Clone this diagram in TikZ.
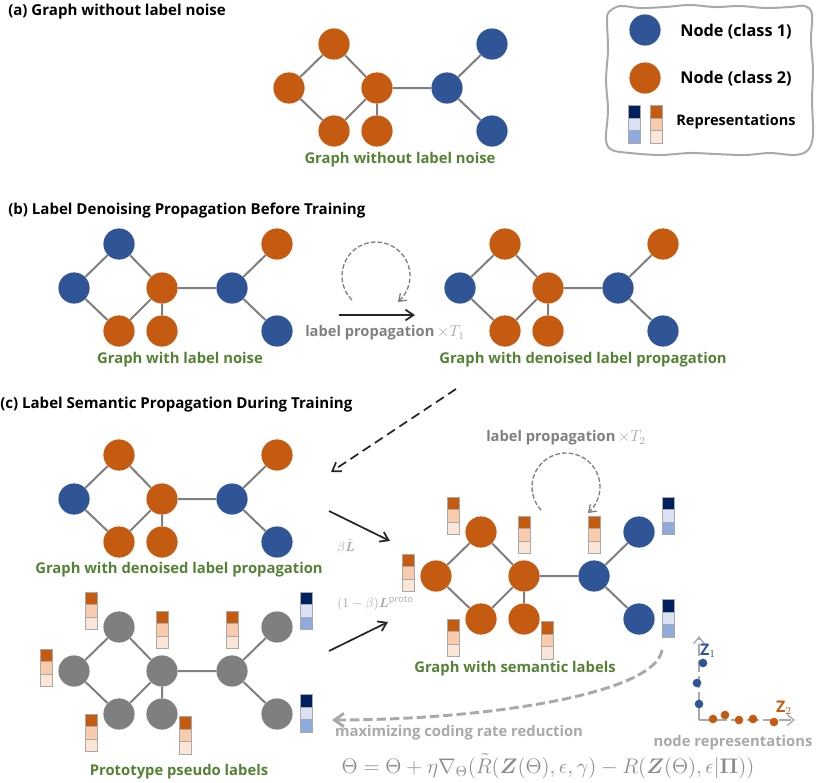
\documentclass[tikz,border=0pt]{standalone}
\usepackage{graphicx}
\usepackage{amsmath}
\usepackage{bm}
\usepackage{fontspec}
\setmainfont{Open Sans}
\usetikzlibrary{arrows.meta}
\definecolor{nb}{HTML}{2F5597}
\definecolor{no}{HTML}{C55A11}
\definecolor{ng}{HTML}{7F7F7F}
\definecolor{tg}{HTML}{548235}
\definecolor{lg}{HTML}{A9A9A9}
\definecolor{mg}{HTML}{808080}
\definecolor{fg}{HTML}{8C8C8C}
\definecolor{b1}{HTML}{002060}
\definecolor{b2}{HTML}{DAE3F3}
\definecolor{b3}{HTML}{8FAADC}
\definecolor{o1}{HTML}{C55A11}
\definecolor{o2}{HTML}{F8CBAD}
\definecolor{o3}{HTML}{FBE5D6}
\tikzset{
 gn/.style={circle,fill=#1,draw=none,minimum size=23.4pt,inner sep=0pt},
 ge/.style={draw=ng,line width=1.5pt},
 cellbox/.style={rectangle,fill=#1,draw=lg,line width=.7pt,minimum width=9.6pt,minimum height=9.4pt,inner sep=0pt},
 ttl/.style={font=\bfseries\fontsize{11.3pt}{13pt}\selectfont,text=black,inner sep=0pt},
 grn/.style={font=\bfseries\fontsize{11.1pt}{13pt}\selectfont,text=tg,inner sep=0pt},
 gry/.style={font=\bfseries\fontsize{11.1pt}{13pt}\selectfont,text=lg,inner sep=0pt},
 lbl/.style={font=\bfseries\fontsize{11pt}{13pt}\selectfont,text=mg,inner sep=0pt},
 mth/.style={text=fg,inner sep=0pt},
 arr/.style={draw=black!85,line width=1.3pt,-{Straight Barb[length=6pt,width=8pt]}},
 loopa/.style={draw=mg,line width=1pt,dash pattern=on 3.5pt off 1.6pt,-{Straight Barb[length=5pt,width=7pt]}},
 dot/.style={circle,fill=#1,draw=none,minimum size=6.5pt,inner sep=0pt},
}
\newcommand{\gph}[9]{%
 \node[gn=#2] (#1t) at (334,44) {};
 \node[gn=#3] (#1l) at (289,88) {};
 \node[gn=#4] (#1m) at (377,88) {};
 \node[gn=#5] (#1a) at (334,131) {};
 \node[gn=#6] (#1b) at (377,131) {};
 \node[gn=#7] (#1r) at (447,88) {};
 \node[gn=#8] (#1u) at (492,44) {};
 \node[gn=#9] (#1d) at (492,131) {};
 \draw[ge] (#1l)--(#1t) (#1t)--(#1m) (#1l)--(#1a) (#1a)--(#1m) (#1m)--(#1b) (#1m)--(#1r) (#1r)--(#1u) (#1r)--(#1d);
}
\newcommand{\barr}[6]{%
 \node[cellbox=#4] (#1x) at (#2,#3-12.5) {};
 \node[cellbox=#5] (#1y) at (#2,#3) {};
 \node[cellbox=#6] (#1z) at (#2,#3+12.5) {};
}
\newcommand{\baro}[3]{\barr{#1}{#2}{#3}{o1}{o2}{o3}}
\newcommand{\barb}[3]{\barr{#1}{#2}{#3}{b1}{b2}{b3}}
\newcommand{\allbars}[1]{%
 \baro{#1A}{306.5}{28}
 \baro{#1B}{377.5}{47}
 \baro{#1C}{447.5}{47}
 \barb{#1D}{521.5}{28}
 \baro{#1E}{261.5}{85}
 \baro{#1F}{306.5}{150}
 \baro{#1G}{400.5}{152.5}
 \barb{#1H}{521.5}{130.5}
}
\newcommand{\timesT}[1]{{\color{lg}\mdseries\fontsize{12pt}{14pt}\selectfont$\times T_{#1}$}}
\begin{document}
\begin{tikzpicture}[x=.75pt,y=-.75pt]
\useasboundingbox (0,0) rectangle (819,783);
% titles
\node[ttl,anchor=west] (ta) at (8,12) {(a) Graph without label noise};
\node[ttl,anchor=west] (tb) at (8,211) {(b) Label Denoising Propagation Before Training};
\node[ttl,anchor=west] (tc) at (0,405) {(c) Label Semantic Propagation During Training};
% legend
\draw[draw=lg,line width=1.5pt] plot[smooth cycle,tension=.55] coordinates {
 (607,20)(609,12)(620,6)(640,8)(665,7)(690,5)(715,7)(740,6)(765,8)(790,7)(805,6)(812,14)(811,40)(813,70)(812,100)(813,135)(808,150)
 (795,155)(770,153)(745,155)(715,154)(690,153)(660,155)(630,153)(612,150)(606,140)(608,110)(606,80)(608,50)};
\node[gn=nb] (k1) at (645,30) {};
\node[gn=no] (k2) at (645,78) {};
\node[ttl,font=\bfseries\fontsize{12.2pt}{14pt}\selectfont] (k1t) at (736,32) {Node (class 1)};
\node[ttl,font=\bfseries\fontsize{12.2pt}{14pt}\selectfont] (k2t) at (736,79) {Node (class 2)};
\node[ttl,font=\bfseries\fontsize{10.9pt}{13pt}\selectfont] (k3t) at (736,122) {Representations};
\barb{kb}{634.5}{124.5}
\baro{ko}{656.5}{124.5}
% graph a
\begin{scope}[shift={(0,0)}]\gph{a}{no}{no}{no}{no}{no}{nb}{nb}{nb}\end{scope}
\node[grn] (ga) at (400,160) {Graph without label noise};
% graph b
\begin{scope}[shift={(-215,200)}]\gph{b}{nb}{nb}{no}{no}{no}{nb}{no}{nb}\end{scope}
\node[grn] (gb) at (180,360) {Graph with label noise};
\begin{scope}[shift={(171,200)}]\gph{d}{no}{nb}{no}{no}{no}{nb}{no}{nb}\end{scope}
\node[grn] (gd) at (583,360) {Graph with denoised label propagation};
\coordinate (p1) at (339,315);
\coordinate (p2) at (415,315);
\draw[arr] (p1)--(p2);
\draw[loopa] plot[smooth,domain=225:-50,samples=30] ({376+34*cos(\x)},{276-34*sin(\x)});
\node[lbl,anchor=west] (lp1) at (305,333) {label propagation\,\timesT{1}};
% graph c top
\begin{scope}[shift={(-215,411)}]\gph{c}{no}{nb}{no}{no}{no}{nb}{no}{nb}\end{scope}
\node[grn] (gc) at (179,570) {Graph with denoised label propagation};
% prototype
\begin{scope}[shift={(-215,583)}]\allbars{p}\gph{p}{ng}{ng}{ng}{ng}{ng}{ng}{ng}{ng}\end{scope}
\node[grn] (gp) at (179,772) {Prototype pseudo labels};
% semantic
\begin{scope}[shift={(147,488)}]\allbars{s}\gph{s}{no}{no}{no}{no}{no}{nb}{nb}{nb}\end{scope}
\node[grn] (gs) at (515,669) {Graph with semantic labels};
% connectors
\coordinate (q1) at (456,389);
\coordinate (q2) at (331,472);
\draw[draw=black!85,line width=1.3pt,dash pattern=on 7pt off 4pt,-{Straight Barb[length=6pt,width=8pt]}] (q1)--(q2);
\coordinate (r1) at (329,511);
\coordinate (r2) at (390,541);
\draw[arr] (r1)--(r2);
\coordinate (r3) at (329,651);
\coordinate (r4) at (388,622);
\draw[arr] (r3)--(r4);
\node[mth,text=lg] (m1) at (346,547) {$\beta\tilde{\bm L}$};
\node[mth,text=lg,anchor=west] (m2) at (337,604) {$(1-\beta)\bm L^{\mathrm{proto}}$};
% self loop T2
\draw[loopa] plot[smooth,domain=223:-50,samples=30] ({566+34*cos(\x)},{487-34*sin(\x)});
\node[lbl,anchor=west] (lp2) at (486,438) {label propagation\,\timesT{2}};
% rate reduction
\coordinate (c1) at (662,650);
\coordinate (c2) at (332,720);
\draw[draw=lg,line width=2.2pt,dash pattern=on 7pt off 3pt,-{Straight Barb[length=7pt,width=10pt]}] (c1) .. controls (655,695) and (480,720) .. (c2);
\node[gry] (mr) at (459,733) {maximizing coding rate reduction};
\node[mth,font=\fontsize{14.4pt}{18pt}\selectfont] (fm) at (548,766) {\scalebox{1.1}{$\Theta=\Theta+\eta\nabla_{\Theta}(\tilde R(\bm Z(\Theta),\epsilon,\gamma)-R(\bm Z(\Theta),\epsilon|\bm\Pi))$}};
% representation axes
\coordinate (o) at (699,720);
\coordinate (zu) at (699,636);
\coordinate (zr) at (795,720);
\draw[draw=lg,line width=1pt,dash pattern=on 9pt off 3pt,-{Straight Barb[length=5pt,width=8pt]}] (o)--(zu);
\draw[draw=lg,line width=1pt,dash pattern=on 9pt off 3pt,-{Straight Barb[length=5pt,width=8pt]}] (o)--(zr);
\node[dot=nb] (e1) at (703,663) {};
\node[dot=nb] (e2) at (697,683) {};
\node[dot=nb] (e3) at (699,704) {};
\node[dot=no] (f1) at (713,719) {};
\node[dot=no] (f2) at (725,715) {};
\node[dot=no] (f3) at (739,720) {};
\node[dot=no] (f4) at (753,719) {};
\node[dot=no] (f5) at (774,722) {};
\node[inner sep=0pt,text=nb,font=\fontsize{12pt}{14pt}\selectfont] (z1) at (708,651) {$\mathbf{Z}_1$};
\node[inner sep=0pt,text=no,font=\fontsize{12pt}{14pt}\selectfont] (z2) at (784,708) {$\mathbf{Z}_2$};
\node[gry] (nr) at (733,743) {node representations};
\end{tikzpicture}
\end{document}
